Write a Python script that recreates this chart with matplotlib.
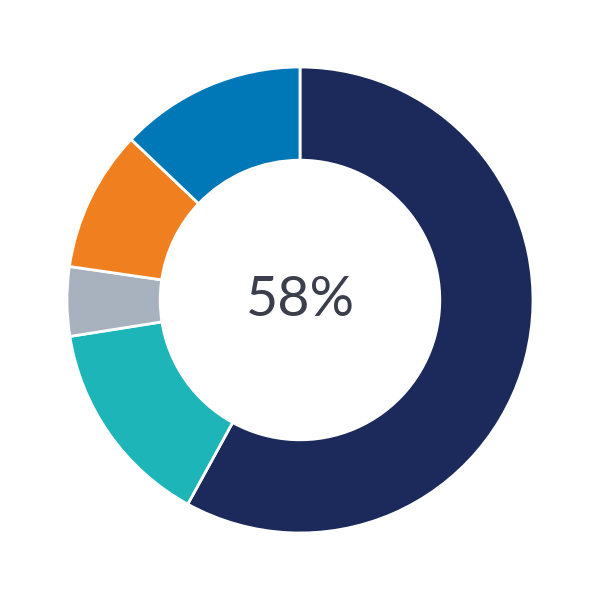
import matplotlib
matplotlib.use("Agg")
import matplotlib.pyplot as plt

# Share of each segment, clockwise from 12 o'clock
labels = ["Main", "Teal", "Grey", "Orange", "Blue"]
shares = [58, 14.5, 4.8, 9.8, 12.9]
colors = ["#1b2a5b", "#1db5b8", "#a8b2bf", "#f07f1f", "#0077b6"]
center_text = "58%"

fig = plt.figure(figsize=(6, 6), dpi=100)
ax = fig.add_axes([0, 0, 1, 1])

ax.pie(
    shares,
    colors=colors,
    startangle=90,
    counterclock=False,
    radius=1.0,
    wedgeprops=dict(width=0.40, edgecolor="white", linewidth=2.0),
)

ax.text(
    0, 0, center_text,
    ha="center", va="center",
    fontsize=40, color="#3a3f4b",
    family=["Lato", "DejaVu Sans"],
)

lim = 300 / 233
ax.set_xlim(-lim, lim)
ax.set_ylim(-lim, lim)
ax.set_aspect("equal")
ax.axis("off")

fig.savefig("out.png", dpi=100, facecolor="white")
